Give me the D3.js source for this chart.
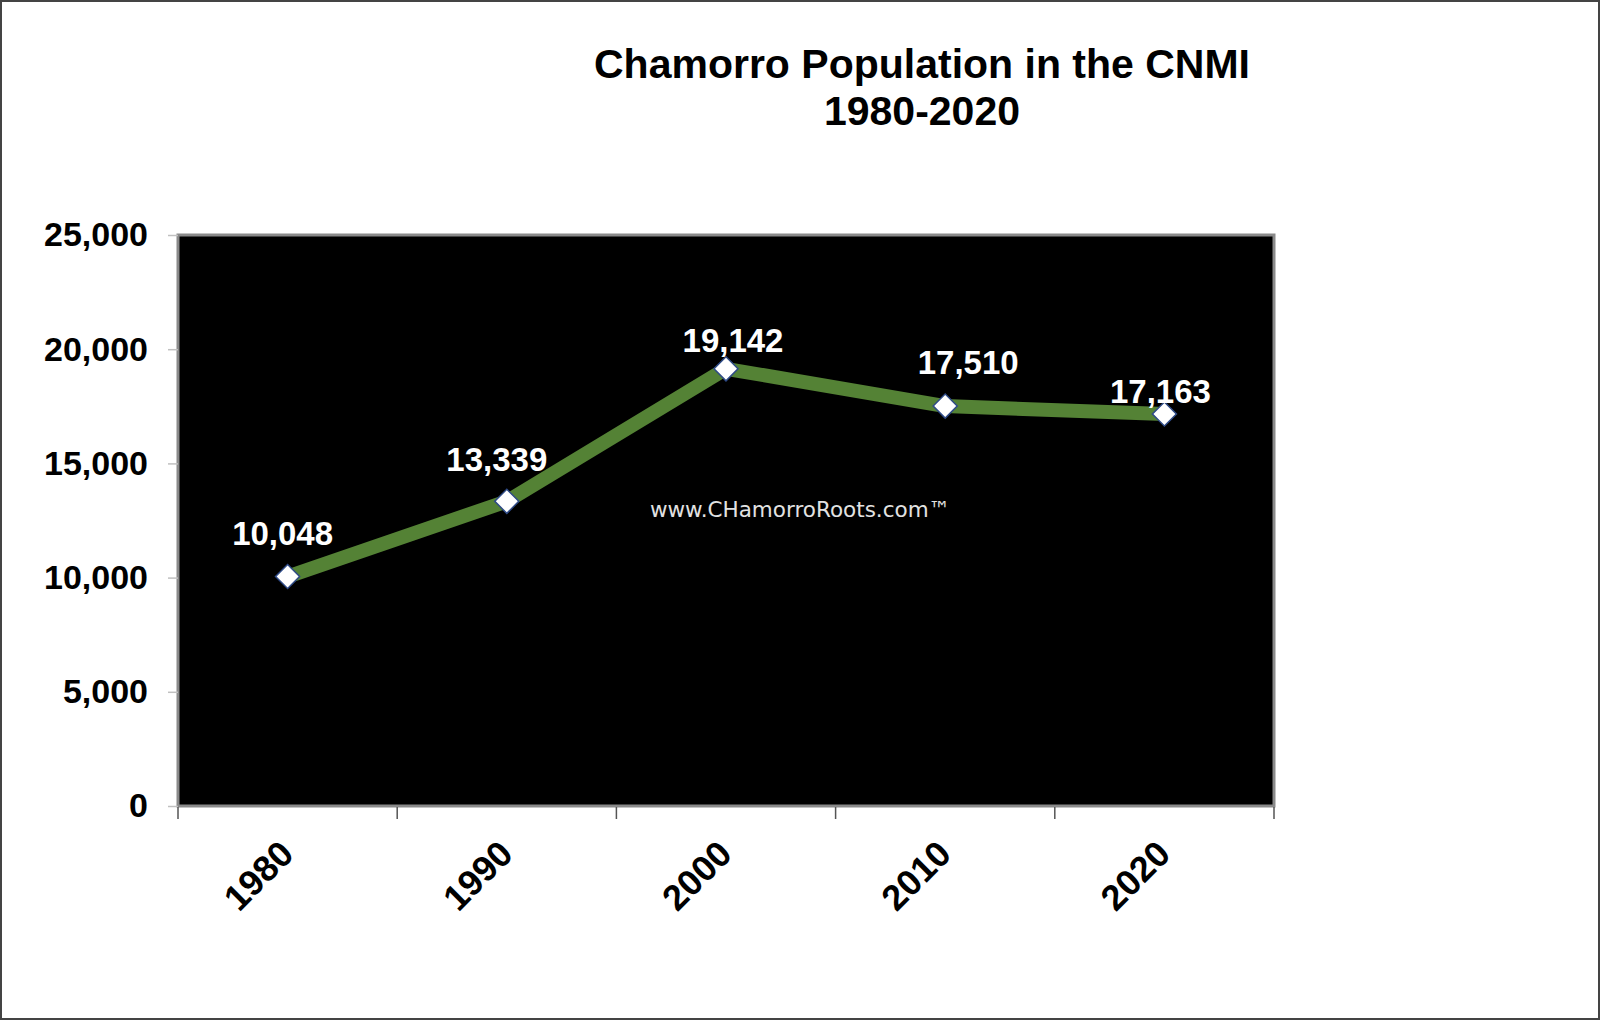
<!DOCTYPE html>
<meta charset="utf-8">
<title>Chamorro Population in the CNMI</title>
<style>
  body { margin: 0; background: #fff; }
  svg text { font-family: "Liberation Sans", Arial, sans-serif; font-weight: bold; }
</style>
<body>
  <div id="container"></div>
  <script src="https://cdn.jsdelivr.net/npm/d3@7"></script>
  <script>

    // data
    const years = ["1980", "1990", "2000", "2010", "2020"];
    const population = [10048, 13339, 19142, 17510, 17163];
    const yTicks = [0, 5000, 10000, 15000, 20000, 25000];
    const titleLines = ["Chamorro Population in the CNMI", "1980-2020"];
    const watermark = "www.CHamorroRoots.com\u2122";

    // label nudges (px) so the value labels sit where the original put them
    const labelDx = [-5, -10, 7, 23, -4];
    const labelDy = [32, 30, 17, 32, 11];

    const width = 1600;
    const height = 1020;
    const plot = {left: 178, top: 235, right: 1274, bottom: 806};

    const svg = d3.select('#container')
      .append('svg')
      .attr('width', width)
      .attr('height', height);

    // outer frame
    svg.append('rect')
      .attr('x', 1).attr('y', 1)
      .attr('width', width - 2).attr('height', height - 2)
      .attr('fill', '#fff')
      .attr('stroke', '#444')
      .attr('stroke-width', 2);

    // title
    svg.append('text')
      .attr('x', 922)
      .attr('y', 78)
      .attr('text-anchor', 'middle')
      .attr('font-size', 41)
      .attr('fill', '#000')
      .selectAll('tspan')
      .data(titleLines)
      .join('tspan')
        .attr('x', 922)
        .attr('dy', (d, i) => i ? 47 : 0)
        .text(d => d);

    const x = d3.scaleBand()
      .domain(years)
      .range([plot.left, plot.right]);

    const y = d3.scaleLinear()
      .domain([0, 25000])
      .range([plot.bottom, plot.top]);

    // plot area
    svg.append('rect')
      .attr('x', plot.left)
      .attr('y', plot.top)
      .attr('width', plot.right - plot.left)
      .attr('height', plot.bottom - plot.top)
      .attr('fill', '#000')
      .attr('stroke', '#8a8a8a')
      .attr('stroke-width', 3);

    // y axis
    const yAxis = svg.append('g')
      .attr('transform', `translate(${plot.left},0)`)
      .call(d3.axisLeft(y).tickValues(yTicks).tickFormat(d3.format(',')).tickSize(10).tickPadding(20));
    yAxis.select('.domain').remove();
    yAxis.selectAll('.tick line').attr('stroke', '#c0c0c0').attr('stroke-width', 1.5);
    yAxis.selectAll('.tick text')
      .attr('font-size', 34)
      .attr('fill', '#000')
      .attr('font-family', '"Liberation Sans", Arial, sans-serif')
      .attr('font-weight', 'bold');

    // x axis ticks at category boundaries
    const bounds = years.map(d => x(d)).concat([plot.right]);
    svg.append('g')
      .selectAll('line')
      .data(bounds)
      .join('line')
        .attr('x1', d => d).attr('x2', d => d)
        .attr('y1', plot.bottom + 1).attr('y2', plot.bottom + 13)
        .attr('stroke', '#555')
        .attr('stroke-width', 1.5);

    svg.append('g')
      .selectAll('text')
      .data(years)
      .join('text')
        .attr('transform', d => `translate(${x(d) + x.bandwidth() / 2 + 8},${plot.bottom + 50}) rotate(-45)`)
        .attr('text-anchor', 'end')
        .attr('font-size', 36)
        .attr('fill', '#000')
        .text(d => d);

    // watermark
    svg.append('text')
      .attr('x', 800)
      .attr('y', 517)
      .attr('text-anchor', 'middle')
      .attr('font-size', 21.5)
      .attr('fill', '#e2e2e2')
      .style('font-family', '"DejaVu Sans", sans-serif')
      .style('font-weight', 'normal')
      .text(watermark);

    // line
    const pts = years.map((d, i) => [x(d) + x.bandwidth() / 2, y(population[i])]);
    svg.append('path')
      .attr('d', d3.line()(pts))
      .attr('fill', 'none')
      .attr('stroke', '#548235')
      .attr('stroke-width', 14)
      .attr('stroke-linejoin', 'round');

    // markers
    svg.append('g')
      .selectAll('path')
      .data(pts)
      .join('path')
        .attr('transform', d => `translate(${d[0]},${d[1]}) rotate(45)`)
        .attr('d', d3.symbol(d3.symbolSquare, 290)())
        .attr('fill', '#fff')
        .attr('stroke', '#2e4a86')
        .attr('stroke-width', 1.5);

    // value labels
    svg.append('g')
      .selectAll('text')
      .data(population)
      .join('text')
        .attr('x', (d, i) => pts[i][0] + labelDx[i])
        .attr('y', (d, i) => pts[i][1] - labelDy[i])
        .attr('text-anchor', 'middle')
        .attr('font-size', 33)
        .attr('fill', '#fff')
        .text(d => d3.format(',')(d));

  </script>
</body>
